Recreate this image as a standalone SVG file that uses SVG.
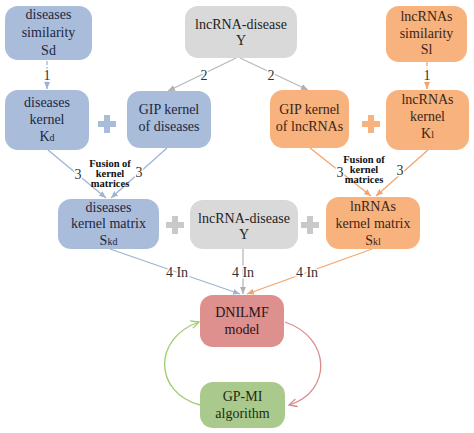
<svg xmlns="http://www.w3.org/2000/svg" width="474" height="433" viewBox="0 0 474 433">
<defs>
<style>
.n{font-family:"Liberation Serif","Times New Roman",serif;font-size:14px;text-anchor:middle}
.b rect{fill:#a9bcd9}.b text{fill:#1c2742}
.g rect{fill:#d9d9d9}.g text{fill:#222}
.o rect{fill:#f7b27d}.o text{fill:#3b2616}
.r rect{fill:#dd908d}.r text{fill:#2a1414}
.v rect{fill:#a9ca8c}.v text{fill:#1f2a14}
.sub{font-size:10px}
.lb{font-family:"Liberation Serif","Times New Roman",serif;font-size:14px;fill:#333;text-anchor:middle;paint-order:stroke;stroke:#fff;stroke-width:3px}
.fu{font-family:"Liberation Serif","Times New Roman",serif;font-size:10.5px;font-weight:bold;fill:#111;text-anchor:middle}
.c{fill:none;stroke-width:1.3}
.cb{stroke:#9fb4d4}.cg{stroke:#b8b8b8}.co{stroke:#f3a56b}.cr{stroke:#d98c8a}.cv{stroke:#9dcc6c}
</style>
<marker id="ab" markerWidth="8" markerHeight="8" refX="7" refY="4" orient="auto" markerUnits="userSpaceOnUse"><path d="M0,1 L7,4 L0,7 z" fill="#9fb4d4"/></marker>
<marker id="ag" markerWidth="8" markerHeight="8" refX="7" refY="4" orient="auto" markerUnits="userSpaceOnUse"><path d="M0,1 L7,4 L0,7 z" fill="#b0b0b0"/></marker>
<marker id="ao" markerWidth="8" markerHeight="8" refX="7" refY="4" orient="auto" markerUnits="userSpaceOnUse"><path d="M0,1 L7,4 L0,7 z" fill="#f3a56b"/></marker>
<marker id="ar" markerWidth="10" markerHeight="10" refX="8" refY="5" orient="auto" markerUnits="userSpaceOnUse"><path d="M0,1 L8,5 L0,9" fill="none" stroke="#d98c8a" stroke-width="1.3"/></marker>
<marker id="av" markerWidth="10" markerHeight="10" refX="8" refY="5" orient="auto" markerUnits="userSpaceOnUse"><path d="M0,1 L8,5 L0,9" fill="none" stroke="#9dcc6c" stroke-width="1.3"/></marker>
<path id="plus" d="M-9,-3 H-3 V-9 H3 V-3 H9 V3 H3 V9 H-3 V3 H-9 z"/>
</defs>
<rect width="474" height="433" fill="#fff"/>

<g id="connectors">
<line class="c cb" x1="47" y1="61" x2="47" y2="89" stroke-dasharray="4,2" marker-end="url(#ab)"/>
<line class="c cg" x1="236" y1="58" x2="168" y2="91" marker-end="url(#ag)"/>
<line class="c cg" x1="240" y1="58" x2="308" y2="90" marker-end="url(#ag)"/>
<line class="c co" x1="427" y1="62" x2="427" y2="89" stroke-dasharray="4,2" marker-end="url(#ao)"/>
<line class="c cb" x1="48" y1="150" x2="106" y2="198" marker-end="url(#ab)"/>
<line class="c cb" x1="167" y1="148" x2="111" y2="198" marker-end="url(#ab)"/>
<line class="c co" x1="310" y1="148" x2="371" y2="196" marker-end="url(#ao)"/>
<line class="c co" x1="428" y1="150" x2="376" y2="196" marker-end="url(#ao)"/>
<line class="c cb" x1="110" y1="249" x2="240" y2="294" marker-end="url(#ab)"/>
<line class="c cg" x1="243" y1="249" x2="243" y2="294" marker-end="url(#ag)"/>
<line class="c co" x1="372" y1="249" x2="247" y2="294" marker-end="url(#ao)"/>
<path class="c cr" d="M285,322 C332,338 332,392 289,405" marker-end="url(#ar)"/>
<path class="c cv" d="M200,405 C153,392 153,338 199,322" marker-end="url(#av)"/>
<text class="lb" x="47" y="80">1</text>
<text class="lb" x="427" y="80">1</text>
<text class="lb" x="204" y="80">2</text>
<text class="lb" x="271" y="80">2</text>
<text class="lb" x="78" y="179">3</text>
<text class="lb" x="139" y="177">3</text>
<text class="lb" x="340" y="177">3</text>
<text class="lb" x="400" y="175">3</text>
<text class="lb" x="177" y="277">4 In</text>
<text class="lb" x="243" y="277">4 In</text>
<text class="lb" x="307" y="277">4 In</text>
<text class="fu" x="110" y="167">Fusion of</text>
<text class="fu" x="110" y="177">kernel</text>
<text class="fu" x="110" y="187">matrices</text>
<text class="fu" x="364" y="163">Fusion of</text>
<text class="fu" x="364" y="173">kernel</text>
<text class="fu" x="364" y="183">matrices</text>
</g>

<g id="plus-signs">
<use href="#plus" x="107" y="124" fill="#a9bcd9"/>
<use href="#plus" x="371" y="124" fill="#f7b27d"/>
<use href="#plus" x="175" y="225" fill="#c9c9c9"/>
<use href="#plus" x="310" y="225" fill="#c9c9c9"/>
</g>

<g id="sd" class="b n"><rect x="5" y="6" width="87" height="54" rx="13"/>
<text x="48.5" y="19">diseases</text><text x="48.5" y="37">similarity</text><text x="48.5" y="55">Sd</text></g>

<g id="y-top" class="g n"><rect x="185" y="6" width="112" height="52" rx="13"/>
<text x="241" y="29">lncRNA-disease</text><text x="241" y="45">Y</text></g>

<g id="sl" class="o n"><rect x="386" y="6" width="81" height="56" rx="13"/>
<text x="426.5" y="21">lncRNAs</text><text x="426.5" y="38">similarity</text><text x="426.5" y="54">Sl</text></g>

<g id="kd" class="b n"><rect x="5" y="90" width="84" height="60" rx="13"/>
<text x="47" y="107">diseases</text><text x="47" y="124">kernel</text><text x="47" y="141">K<tspan class="sub">d</tspan></text></g>

<g id="gip-d" class="b n"><rect x="127" y="91" width="84" height="57" rx="13"/>
<text x="169" y="114">GIP kernel</text><text x="169" y="131">of diseases</text></g>

<g id="gip-l" class="o n"><rect x="270" y="90" width="79" height="58" rx="13"/>
<text x="309.5" y="114">GIP kernel</text><text x="309.5" y="131">of lncRNAs</text></g>

<g id="kl" class="o n"><rect x="386" y="90" width="83" height="60" rx="13"/>
<text x="427.5" y="104">lncRNAs</text><text x="427.5" y="121">kernel</text><text x="427.5" y="138">K<tspan class="sub">l</tspan></text></g>

<g id="skd" class="b n"><rect x="58" y="199" width="101" height="50" rx="13"/>
<text x="108.5" y="212">diseases</text><text x="108.5" y="228">kernel matrix</text><text x="108.5" y="245">S<tspan class="sub">kd</tspan></text></g>

<g id="y-mid" class="g n"><rect x="190" y="200" width="108" height="49" rx="13"/>
<text x="244" y="223">lncRNA-disease</text><text x="244" y="239">Y</text></g>

<g id="skl" class="o n"><rect x="326" y="197" width="94" height="52" rx="13"/>
<text x="373" y="211">lnRNAs</text><text x="373" y="228">kernel matrix</text><text x="373" y="245">S<tspan class="sub">kl</tspan></text></g>

<g id="dnilmf" class="r n"><rect x="200" y="295" width="84" height="52" rx="13"/>
<text x="242" y="317">DNILMF</text><text x="242" y="334">model</text></g>

<g id="gpmi" class="v n"><rect x="200" y="382" width="85" height="46" rx="13"/>
<text x="242.5" y="401">GP-MI</text><text x="242.5" y="418">algorithm</text></g>
</svg>
